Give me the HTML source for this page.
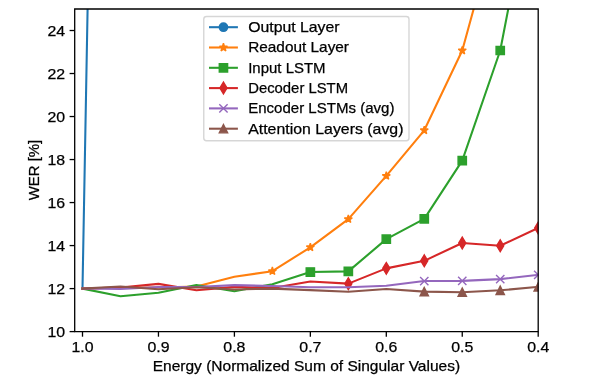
<!DOCTYPE html>
<html><head><meta charset="utf-8"><title>WER vs Energy</title><style>
html,body{margin:0;padding:0;background:#fff;width:598px;height:378px;overflow:hidden}
svg{display:block;will-change:transform}
</style></head><body>
<svg width="598" height="378" viewBox="0 0 598 378">
<defs><clipPath id="c"><rect x="74.7" y="9" width="463.5" height="322.6"/></clipPath>
<path id="mo" d="M0 -4.17 A4.17 4.17 0 1 1 0 4.17 A4.17 4.17 0 1 1 0 -4.17 Z"/>
<path id="ms" d="M0.000 -4.167 L-0.935 -1.288 L-3.963 -1.288 L-1.514 0.492 L-2.449 3.371 L0.000 1.592 L2.449 3.371 L1.514 0.492 L3.963 -1.288 L0.935 -1.288 Z"/>
<path id="mq" d="M-4.167 -4.167 H4.167 V4.167 H-4.167 Z"/>
<path id="md" d="M0.000 5.893 L3.536 0.000 L0.000 -5.893 L-3.536 0.000 Z"/>
<path id="mx" d="M-4.167 4.167 L4.167 -4.167 M-4.167 -4.167 L4.167 4.167"/>
<path id="mt" d="M0 -4.167 L-4.167 4.167 L4.167 4.167 Z"/>
</defs>
<rect width="598" height="378" fill="#fff"/>
<g stroke="#000" stroke-width="1.3">
<line x1="82.5" y1="331.6" x2="82.5" y2="336.7"/>
<line x1="158.45" y1="331.6" x2="158.45" y2="336.7"/>
<line x1="234.4" y1="331.6" x2="234.4" y2="336.7"/>
<line x1="310.35" y1="331.6" x2="310.35" y2="336.7"/>
<line x1="386.3" y1="331.6" x2="386.3" y2="336.7"/>
<line x1="462.25" y1="331.6" x2="462.25" y2="336.7"/>
<line x1="538.2" y1="331.6" x2="538.2" y2="336.7"/>
<line x1="74.7" y1="331.6" x2="69.6" y2="331.6"/>
<line x1="74.7" y1="288.59" x2="69.6" y2="288.59"/>
<line x1="74.7" y1="245.57" x2="69.6" y2="245.57"/>
<line x1="74.7" y1="202.56" x2="69.6" y2="202.56"/>
<line x1="74.7" y1="159.55" x2="69.6" y2="159.55"/>
<line x1="74.7" y1="116.53" x2="69.6" y2="116.53"/>
<line x1="74.7" y1="73.52" x2="69.6" y2="73.52"/>
<line x1="74.7" y1="30.51" x2="69.6" y2="30.51"/>
</g>
<g style='font-family:&quot;Liberation Sans&quot;,sans-serif;font-size:14.8px;fill:#000;stroke:#000;stroke-width:0.25px'>
<text x="82.5" y="351.8" text-anchor="middle" textLength="22.09" lengthAdjust="spacingAndGlyphs">1.0</text>
<text x="158.45" y="351.8" text-anchor="middle" textLength="22.09" lengthAdjust="spacingAndGlyphs">0.9</text>
<text x="234.4" y="351.8" text-anchor="middle" textLength="22.09" lengthAdjust="spacingAndGlyphs">0.8</text>
<text x="310.35" y="351.8" text-anchor="middle" textLength="22.09" lengthAdjust="spacingAndGlyphs">0.7</text>
<text x="386.3" y="351.8" text-anchor="middle" textLength="22.09" lengthAdjust="spacingAndGlyphs">0.6</text>
<text x="462.25" y="351.8" text-anchor="middle" textLength="22.09" lengthAdjust="spacingAndGlyphs">0.5</text>
<text x="538.2" y="351.8" text-anchor="middle" textLength="22.09" lengthAdjust="spacingAndGlyphs">0.4</text>
<text x="65.08" y="336.9" text-anchor="end" textLength="17.67" lengthAdjust="spacingAndGlyphs">10</text>
<text x="65.08" y="293.89" text-anchor="end" textLength="17.67" lengthAdjust="spacingAndGlyphs">12</text>
<text x="65.08" y="250.87" text-anchor="end" textLength="17.67" lengthAdjust="spacingAndGlyphs">14</text>
<text x="65.08" y="207.86" text-anchor="end" textLength="17.67" lengthAdjust="spacingAndGlyphs">16</text>
<text x="65.08" y="164.85" text-anchor="end" textLength="17.67" lengthAdjust="spacingAndGlyphs">18</text>
<text x="65.08" y="121.83" text-anchor="end" textLength="17.67" lengthAdjust="spacingAndGlyphs">20</text>
<text x="65.08" y="78.82" text-anchor="end" textLength="17.67" lengthAdjust="spacingAndGlyphs">22</text>
<text x="65.08" y="35.81" text-anchor="end" textLength="17.67" lengthAdjust="spacingAndGlyphs">24</text>
<text x="306.4" y="370.7" text-anchor="middle" textLength="307.39" lengthAdjust="spacingAndGlyphs">Energy (Normalized Sum of Singular Values)</text>
<text x="0" y="0" transform="translate(38.96 170.05) rotate(-90)" text-anchor="middle" textLength="60.61" lengthAdjust="spacingAndGlyphs">WER [%]</text>
</g>
<g clip-path="url(#c)">
<polyline points="82.5,288.59 120.48,-1797.56 158.45,-2034.13 196.43,-2249.2 234.4,-2464.27 272.38,-2679.33 310.35,-2894.4 348.33,-3109.47 386.3,-3324.53 424.27,-3539.6 462.25,-3754.67 500.23,-3969.73 538.2,-4184.8" fill="none" stroke="#1f77b4" stroke-width="2.08" stroke-linejoin="round" stroke-linecap="square"/>
<polyline points="82.5,288.59 120.48,287.51 158.45,287.51 196.43,286.44 234.4,276.76 272.38,271.17 310.35,247.29 348.33,219.12 386.3,175.89 424.27,130.3 462.25,50.51 500.23,-87.78 538.2,-227.57" fill="none" stroke="#ff7f0e" stroke-width="2.08" stroke-linejoin="round" stroke-linecap="square"/>
<use href="#ms" x="272.38" y="271.17" fill="#ff7f0e" stroke="#ff7f0e" stroke-width="1.39" stroke-linejoin="bevel"/>
<use href="#ms" x="310.35" y="247.29" fill="#ff7f0e" stroke="#ff7f0e" stroke-width="1.39" stroke-linejoin="bevel"/>
<use href="#ms" x="348.33" y="219.12" fill="#ff7f0e" stroke="#ff7f0e" stroke-width="1.39" stroke-linejoin="bevel"/>
<use href="#ms" x="386.3" y="175.89" fill="#ff7f0e" stroke="#ff7f0e" stroke-width="1.39" stroke-linejoin="bevel"/>
<use href="#ms" x="424.27" y="130.3" fill="#ff7f0e" stroke="#ff7f0e" stroke-width="1.39" stroke-linejoin="bevel"/>
<use href="#ms" x="462.25" y="50.51" fill="#ff7f0e" stroke="#ff7f0e" stroke-width="1.39" stroke-linejoin="bevel"/>
<polyline points="82.5,288.59 120.48,296.33 158.45,292.67 196.43,284.93 234.4,291.17 272.38,284.29 310.35,272.03 348.33,271.38 386.3,239.12 424.27,218.91 462.25,160.62 500.23,50.51 538.2,-145.85" fill="none" stroke="#2ca02c" stroke-width="2.08" stroke-linejoin="round" stroke-linecap="square"/>
<use href="#mq" x="310.35" y="272.03" fill="#2ca02c" stroke="#2ca02c" stroke-width="1.39" stroke-linejoin="miter"/>
<use href="#mq" x="348.33" y="271.38" fill="#2ca02c" stroke="#2ca02c" stroke-width="1.39" stroke-linejoin="miter"/>
<use href="#mq" x="386.3" y="239.12" fill="#2ca02c" stroke="#2ca02c" stroke-width="1.39" stroke-linejoin="miter"/>
<use href="#mq" x="424.27" y="218.91" fill="#2ca02c" stroke="#2ca02c" stroke-width="1.39" stroke-linejoin="miter"/>
<use href="#mq" x="462.25" y="160.62" fill="#2ca02c" stroke="#2ca02c" stroke-width="1.39" stroke-linejoin="miter"/>
<use href="#mq" x="500.23" y="50.51" fill="#2ca02c" stroke="#2ca02c" stroke-width="1.39" stroke-linejoin="miter"/>
<polyline points="82.5,288.59 120.48,287.51 158.45,283.86 196.43,290.31 234.4,286.87 272.38,287.94 310.35,281.49 348.33,283.64 386.3,268.37 424.27,260.84 462.25,242.99 500.23,245.79 538.2,227.94" fill="none" stroke="#d62728" stroke-width="2.08" stroke-linejoin="round" stroke-linecap="square"/>
<use href="#md" x="348.33" y="283.64" fill="#d62728" stroke="#d62728" stroke-width="1.39" stroke-linejoin="miter"/>
<use href="#md" x="386.3" y="268.37" fill="#d62728" stroke="#d62728" stroke-width="1.39" stroke-linejoin="miter"/>
<use href="#md" x="424.27" y="260.84" fill="#d62728" stroke="#d62728" stroke-width="1.39" stroke-linejoin="miter"/>
<use href="#md" x="462.25" y="242.99" fill="#d62728" stroke="#d62728" stroke-width="1.39" stroke-linejoin="miter"/>
<use href="#md" x="500.23" y="245.79" fill="#d62728" stroke="#d62728" stroke-width="1.39" stroke-linejoin="miter"/>
<use href="#md" x="538.2" y="227.94" fill="#d62728" stroke="#d62728" stroke-width="1.39" stroke-linejoin="miter"/>
<polyline points="82.5,288.59 120.48,289.02 158.45,287.08 196.43,287.08 234.4,285.15 272.38,286.01 310.35,287.3 348.33,287.3 386.3,285.79 424.27,281.06 462.25,280.84 500.23,279.12 538.2,274.82" fill="none" stroke="#9467bd" stroke-width="2.08" stroke-linejoin="round" stroke-linecap="square"/>
<use href="#mx" x="424.27" y="281.06" fill="#9467bd" stroke="#9467bd" stroke-width="1.39"/>
<use href="#mx" x="462.25" y="280.84" fill="#9467bd" stroke="#9467bd" stroke-width="1.39"/>
<use href="#mx" x="500.23" y="279.12" fill="#9467bd" stroke="#9467bd" stroke-width="1.39"/>
<use href="#mx" x="538.2" y="274.82" fill="#9467bd" stroke="#9467bd" stroke-width="1.39"/>
<polyline points="82.5,288.59 120.48,286.44 158.45,289.23 196.43,287.3 234.4,289.45 272.38,288.59 310.35,290.09 348.33,291.81 386.3,289.02 424.27,291.6 462.25,292.24 500.23,290.31 538.2,286.87" fill="none" stroke="#8c564b" stroke-width="2.08" stroke-linejoin="round" stroke-linecap="square"/>
<use href="#mt" x="424.27" y="291.6" fill="#8c564b" stroke="#8c564b" stroke-width="1.39" stroke-linejoin="miter"/>
<use href="#mt" x="462.25" y="292.24" fill="#8c564b" stroke="#8c564b" stroke-width="1.39" stroke-linejoin="miter"/>
<use href="#mt" x="500.23" y="290.31" fill="#8c564b" stroke="#8c564b" stroke-width="1.39" stroke-linejoin="miter"/>
<use href="#mt" x="538.2" y="286.87" fill="#8c564b" stroke="#8c564b" stroke-width="1.39" stroke-linejoin="miter"/>
</g>
<path d="M74.7 331.6 V9 H538.2 V331.6 Z" fill="none" stroke="#000" stroke-width="1.3" stroke-linejoin="miter"/>
<path d="M206.54 16.5 H406.22 Q409 16.5 409 19.28 V137.92 Q409 140.7 406.22 140.7 H206.54 Q203.76 140.7 203.76 137.92 V19.28 Q203.76 16.5 206.54 16.5 Z" fill="#fff" fill-opacity="0.8" stroke="#ccc" stroke-opacity="0.8" stroke-width="1.39"/>
<line x1="209" y1="27.2" x2="237.9" y2="27.2" stroke="#1f77b4" stroke-width="2.08" stroke-linecap="butt"/>
<use href="#mo" x="223.45" y="27.2" fill="#1f77b4" stroke="#1f77b4" stroke-width="1.39"/>
<text x="248.2" y="32.06" style='font-family:&quot;Liberation Sans&quot;,sans-serif;font-size:14.8px;fill:#000;stroke:#000;stroke-width:0.25px' textLength="91.38" lengthAdjust="spacingAndGlyphs">Output Layer</text>
<line x1="209" y1="47.5" x2="237.9" y2="47.5" stroke="#ff7f0e" stroke-width="2.08" stroke-linecap="butt"/>
<use href="#ms" x="223.45" y="47.5" fill="#ff7f0e" stroke="#ff7f0e" stroke-width="1.39" stroke-linejoin="bevel"/>
<text x="248.2" y="52.36" style='font-family:&quot;Liberation Sans&quot;,sans-serif;font-size:14.8px;fill:#000;stroke:#000;stroke-width:0.25px' textLength="100.79" lengthAdjust="spacingAndGlyphs">Readout Layer</text>
<line x1="209" y1="67.8" x2="237.9" y2="67.8" stroke="#2ca02c" stroke-width="2.08" stroke-linecap="butt"/>
<use href="#mq" x="223.45" y="67.8" fill="#2ca02c" stroke="#2ca02c" stroke-width="1.39" stroke-linejoin="miter"/>
<text x="248.2" y="72.66" style='font-family:&quot;Liberation Sans&quot;,sans-serif;font-size:14.8px;fill:#000;stroke:#000;stroke-width:0.25px' textLength="77.4" lengthAdjust="spacingAndGlyphs">Input LSTM</text>
<line x1="209" y1="88.1" x2="237.9" y2="88.1" stroke="#d62728" stroke-width="2.08" stroke-linecap="butt"/>
<use href="#md" x="223.45" y="88.1" fill="#d62728" stroke="#d62728" stroke-width="1.39" stroke-linejoin="miter"/>
<text x="248.2" y="92.96" style='font-family:&quot;Liberation Sans&quot;,sans-serif;font-size:14.8px;fill:#000;stroke:#000;stroke-width:0.25px' textLength="99.88" lengthAdjust="spacingAndGlyphs">Decoder LSTM</text>
<line x1="209" y1="108.4" x2="237.9" y2="108.4" stroke="#9467bd" stroke-width="2.08" stroke-linecap="butt"/>
<use href="#mx" x="223.45" y="108.4" fill="#9467bd" stroke="#9467bd" stroke-width="1.39"/>
<text x="248.2" y="113.26" style='font-family:&quot;Liberation Sans&quot;,sans-serif;font-size:14.8px;fill:#000;stroke:#000;stroke-width:0.25px' textLength="146.26" lengthAdjust="spacingAndGlyphs">Encoder LSTMs (avg)</text>
<line x1="209" y1="128.7" x2="237.9" y2="128.7" stroke="#8c564b" stroke-width="2.08" stroke-linecap="butt"/>
<use href="#mt" x="223.45" y="128.7" fill="#8c564b" stroke="#8c564b" stroke-width="1.39" stroke-linejoin="miter"/>
<text x="248.2" y="133.56" style='font-family:&quot;Liberation Sans&quot;,sans-serif;font-size:14.8px;fill:#000;stroke:#000;stroke-width:0.25px' textLength="155.28" lengthAdjust="spacingAndGlyphs">Attention Layers (avg)</text>
</svg>
</body></html>
